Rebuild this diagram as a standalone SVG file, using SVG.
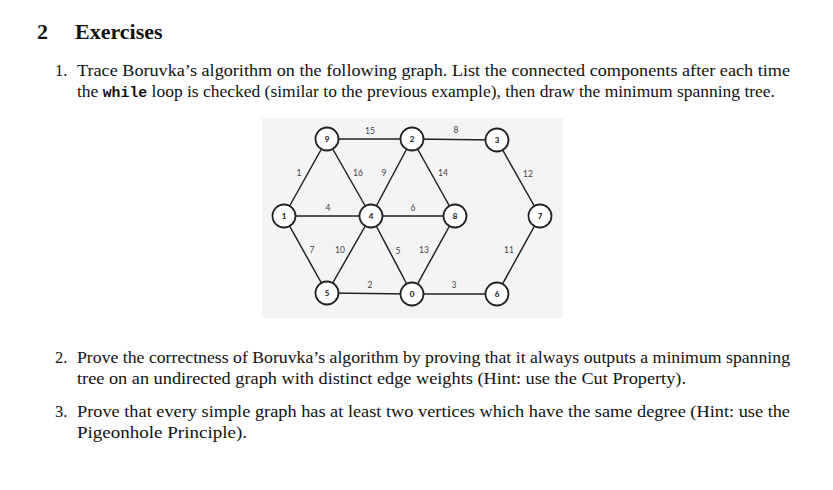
<svg xmlns="http://www.w3.org/2000/svg" width="833" height="490" viewBox="0 0 833 490">
<style>
.t{font-family:"Liberation Serif",serif;font-size:16.5px;fill:#111}
.m{font-family:"Liberation Mono",monospace;font-weight:bold;font-size:14px}
.h{font-family:"Liberation Serif",serif;font-size:22px;font-weight:bold;fill:#111}
.e line{stroke:#222;stroke-width:1.5}
.n circle{fill:#fff;stroke:#222;stroke-width:1.8}
.n text{font-family:Lato,"Liberation Sans",sans-serif;font-size:8px;font-weight:bold;text-anchor:middle;fill:#111}
.w{font-family:Lato,"Liberation Sans",sans-serif;font-size:8.5px;fill:#444;text-anchor:middle}
</style>
<rect width="833" height="490" fill="#fff"/>
<text class="h" x="37" y="39">2</text><text class="h" x="75" y="39">Exercises</text>
<text class="t" x="55" y="76">1.</text>
<text class="t" x="77" y="76" textLength="713" lengthAdjust="spacingAndGlyphs">Trace Boruvka’s algorithm on the following graph. List the connected components after each time</text>
<text class="t" x="77" y="97" textLength="698" lengthAdjust="spacingAndGlyphs">the <tspan class="m">while</tspan> loop is checked (similar to the previous example), then draw the minimum spanning tree.</text>
<rect x="262" y="118" width="301" height="200" fill="#f4f4f4"/>
<g id="edges" class="e">
<line x1="327" y1="139" x2="412" y2="139"/><line x1="412" y1="139" x2="497" y2="140"/>
<line x1="327" y1="139" x2="284" y2="216"/><line x1="327" y1="139" x2="371" y2="216"/>
<line x1="412" y1="139" x2="371" y2="216"/><line x1="412" y1="139" x2="455" y2="216"/>
<line x1="497" y1="140" x2="540" y2="216"/>
<line x1="284" y1="216" x2="371" y2="216"/><line x1="371" y1="216" x2="455" y2="216"/>
<line x1="284" y1="216" x2="327" y2="293"/><line x1="371" y1="216" x2="327" y2="293"/>
<line x1="371" y1="216" x2="412" y2="294"/><line x1="455" y1="216" x2="412" y2="294"/>
<line x1="540" y1="216" x2="497" y2="294"/>
<line x1="327" y1="293" x2="412" y2="294"/><line x1="412" y1="294" x2="497" y2="294"/>
</g>
<g id="weights">
<text class="w" x="370" y="134">15</text><text class="w" x="456" y="133">8</text>
<text class="w" x="299" y="176">1</text><text class="w" x="358" y="176">16</text>
<text class="w" x="384" y="176">9</text><text class="w" x="443" y="176">14</text>
<text class="w" x="528" y="177">12</text><text class="w" x="328" y="211">4</text>
<text class="w" x="413" y="211">6</text><text class="w" x="312" y="253">7</text>
<text class="w" x="340" y="253">10</text><text class="w" x="398" y="254">5</text>
<text class="w" x="424" y="253">13</text><text class="w" x="509" y="253">11</text>
<text class="w" x="370" y="288">2</text><text class="w" x="454" y="288">3</text>
</g>
<g id="n9" class="n"><circle cx="327" cy="139" r="11.5"/><text x="327" y="142">9</text></g>
<g id="n2" class="n"><circle cx="412" cy="139" r="11.5"/><text x="412" y="142">2</text></g>
<g id="n3" class="n"><circle cx="497" cy="140" r="11.5"/><text x="497" y="143">3</text></g>
<g id="n1" class="n"><circle cx="284" cy="216" r="11.5"/><text x="284" y="219">1</text></g>
<g id="n4" class="n"><circle cx="371" cy="216" r="11.5"/><text x="371" y="219">4</text></g>
<g id="n8" class="n"><circle cx="455" cy="216" r="11.5"/><text x="455" y="219">8</text></g>
<g id="n7" class="n"><circle cx="540" cy="216" r="11.5"/><text x="540" y="219">7</text></g>
<g id="n5" class="n"><circle cx="327" cy="293" r="11.5"/><text x="327" y="296">5</text></g>
<g id="n0" class="n"><circle cx="412" cy="294" r="11.5"/><text x="412" y="297">0</text></g>
<g id="n6" class="n"><circle cx="497" cy="294" r="11.5"/><text x="497" y="297">6</text></g>
<text class="t" x="55" y="363">2.</text>
<text class="t" x="77" y="363" textLength="713" lengthAdjust="spacingAndGlyphs">Prove the correctness of Boruvka’s algorithm by proving that it always outputs a minimum spanning</text>
<text class="t" x="77" y="384" textLength="609" lengthAdjust="spacingAndGlyphs">tree on an undirected graph with distinct edge weights (Hint: use the Cut Property).</text>
<text class="t" x="55" y="417">3.</text>
<text class="t" x="77" y="417" textLength="713" lengthAdjust="spacingAndGlyphs">Prove that every simple graph has at least two vertices which have the same degree (Hint: use the</text>
<text class="t" x="77" y="438" textLength="170" lengthAdjust="spacingAndGlyphs">Pigeonhole Principle).</text>
</svg>
